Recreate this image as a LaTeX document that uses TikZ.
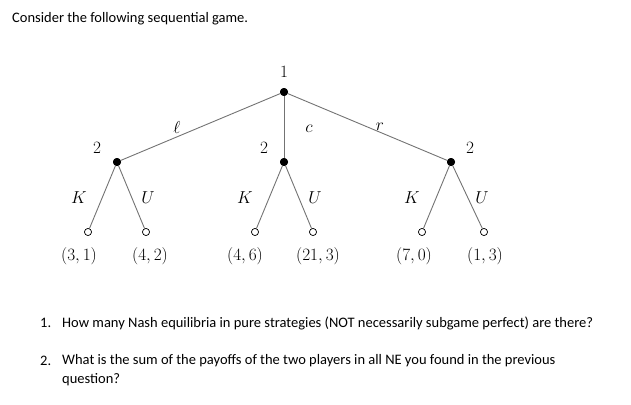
\documentclass[tikz,border=0pt]{standalone}
\usepackage{fontspec}
\newfontfamily\carlitofont{Carlito}
\begin{document}
\begin{tikzpicture}[x=1pt,y=-1pt,
 dec/.style={circle,fill=black,inner sep=0,minimum size=8pt},
 leaf/.style={circle,draw=black,fill=white,inner sep=0,minimum size=7pt,line width=0.6pt},
 edge/.style={draw=black!55,line width=0.9pt},
 lab/.style={font=\fontsize{18}{20}\selectfont},
 txt/.style={font=\carlitofont\fontsize{14.5}{16}\selectfont,anchor=west,inner sep=0}]
\useasboundingbox (0,0) rectangle (631,404);
\node[txt] (h) at (12,19) {Consider the following sequential game.};
\node[dec] (r) at (284,92) {};
\node[dec] (a) at (117,162) {};
\node[dec] (b) at (284,162) {};
\node[dec] (c) at (451,162) {};
\foreach \n/\x in {a1/88,a2/146,b1/255,b2/313,c1/422,c2/484}
  \node[leaf] (\n) at (\x,232) {};
\foreach \u/\v in {r/a,r/b,r/c,a/a1,a/a2,b/b1,b/b2,c/c1,c/c2}
  \draw[edge] (\u) -- (\v);
\foreach \n in {r,a,b,c} \node[dec] at (\n) {};
\foreach \n in {a1,a2,b1,b2,c1,c2}
  \node[leaf] at (\n) {};
\node[lab] (t1) at (284,72) {$1$};
\node[lab] (tl) at (177,127) {$\ell$};
\node[lab] (tc) at (309,129) {$c$};
\node[lab] (tr) at (380,127) {$r$};
\node[lab] (t2a) at (97,148) {$2$};
\node[lab] (t2b) at (264,148) {$2$};
\node[lab] (t2c) at (470,148) {$2$};
\node[lab] (k1) at (79,198) {$K$};
\node[lab] (u1) at (148,198) {$U$};
\node[lab] (k2) at (245,198) {$K$};
\node[lab] (u2) at (315,198) {$U$};
\node[lab] (k3) at (412,198) {$K$};
\node[lab] (u3) at (482,198) {$U$};
\node[lab] (p1) at (79,256) {$(3,1)$};
\node[lab] (p2) at (150,256) {$(4,2)$};
\node[lab] (p3) at (245,256) {$(4,6)$};
\node[lab] (p4) at (318,256) {$(21,3)$};
\node[lab] (p5) at (414,256) {$(7,0)$};
\node[lab] (p6) at (485,256) {$(1,3)$};
\node[txt] (n1) at (40,323) {1.};
\node[txt] (q1) at (62,323) {How many Nash equilibria in pure strategies (NOT necessarily subgame perfect) are there?};
\node[txt] (n2) at (40,361) {2.};
\node[txt] (q2) at (62,361) {What is the sum of the payoffs of the two players in all NE you found in the previous};
\node[txt] (q3) at (62,380) {question?};
\end{tikzpicture}
\end{document}
